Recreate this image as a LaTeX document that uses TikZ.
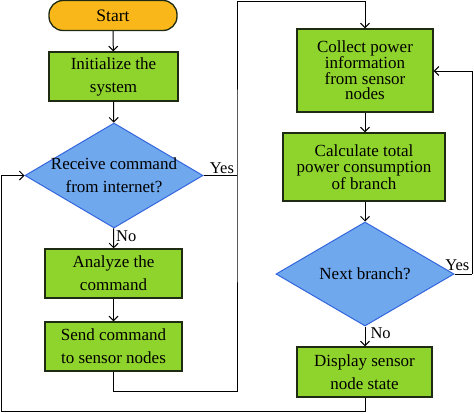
\documentclass[tikz,border=0pt]{standalone}
\usepackage{fontspec}
\setmainfont{Liberation Serif}
\usetikzlibrary{shapes.geometric,arrows.meta}
\definecolor{boxgreen}{HTML}{8FD42C}
\definecolor{boxedge}{HTML}{1E2A12}
\definecolor{startfill}{HTML}{F9B71A}
\definecolor{diafill}{HTML}{70A8EE}
\definecolor{diaedge}{HTML}{3366DD}
\tikzset{
  box/.style={draw=boxedge, line width=1.3pt, fill=boxgreen, align=center, inner sep=0pt, font=\fontsize{17}{23}\selectfont},
  term/.style={draw=boxedge, line width=1.3pt, fill=startfill, rounded corners=14pt, inner sep=0pt, font=\fontsize{17.5}{23}\selectfont},
  dia/.style={diamond, draw=diaedge, line width=1pt, fill=diafill, inner sep=0pt, aspect=1.7},
  dtext/.style={align=center, inner sep=0pt, font=\fontsize{17}{23}\selectfont},
  lbl/.style={inner sep=1pt, font=\fontsize{16.5}{20}\selectfont},
  conn/.style={draw=black, line width=1pt},
  arr/.style={conn, -{Straight Barb[length=4.5pt,width=9pt]}}
}
\begin{document}
\begin{tikzpicture}[x=1pt,y=-1pt]
\useasboundingbox (0,0) rectangle (474,413);
% left column
\node[term, minimum width=128pt, minimum height=30pt] (start) at (113,15.5) {Start};
\node[box, minimum width=129pt, minimum height=49pt] (init) at (113.5,76.5) {Initialize the\\system};
\node[dia, minimum width=178pt, minimum height=105pt] (dec1) at (114,175.5) {};
\node[dtext] (dec1t) at (114,175.5) {Receive command\\from internet?};
\node[box, minimum width=137pt, minimum height=49pt] (analyze) at (113.5,273.5) {Analyze the\\command};
\node[box, minimum width=137pt, minimum height=49pt] (send) at (113.5,346.5) {Send command\\to sensor nodes};
% right column
\node[box, minimum width=136pt, minimum height=83pt, font=\fontsize{17}{15.7}\selectfont] (collect) at (365,70.5) {Collect power\\information\\from sensor\\nodes};
\node[box, minimum width=162pt, minimum height=68pt, font=\fontsize{17}{16.8}\selectfont] (calc) at (364,167) {Calculate total\\power consumption\\of branch};
\node[dia, minimum width=178pt, minimum height=104pt] (dec2) at (365,274) {};
\node[dtext] (dec2t) at (365,274) {Next branch?};
\node[box, minimum width=135pt, minimum height=50pt] (display) at (364.5,372) {Display sensor\\node state};
% routing coordinates
\coordinate (j1) at (237,175.5);
\coordinate (r1) at (472,274);
\coordinate (r2) at (472,71);
% connectors
\draw[arr] (start) -- (init);
\draw[arr] (init) -- (dec1);
\draw[arr] (dec1) -- node[lbl, right, pos=0.4, xshift=1pt] (no1) {No} (analyze);
\draw[arr] (analyze) -- (send);
\draw[arr] (send.south) -- (113.5,391) -| (j1) |- (365,1) -- (collect.north);
\draw[conn] (dec1.east) -- node[lbl, above, pos=0.55] (yes1) {Yes} (j1);
\draw[arr] (collect) -- (calc.north -| collect);
\draw[arr] (calc.south -| dec2) -- (dec2);
\draw[arr] (dec2) -- node[lbl, right, pos=0.35, xshift=4pt] (no2) {No} (display.north -| dec2);
\draw[conn] (dec2.east) -- (r1);
\node[lbl, anchor=south east] (yes2) at (470.5,272) {Yes};
\draw[arr] (r1) -- (r2) -- (collect.east |- r2);
\draw[arr] (display.south -| dec2) -- (365,411.5) -- (1,411.5) -- (1,175.5) -- (dec1.west);
\end{tikzpicture}
\end{document}
